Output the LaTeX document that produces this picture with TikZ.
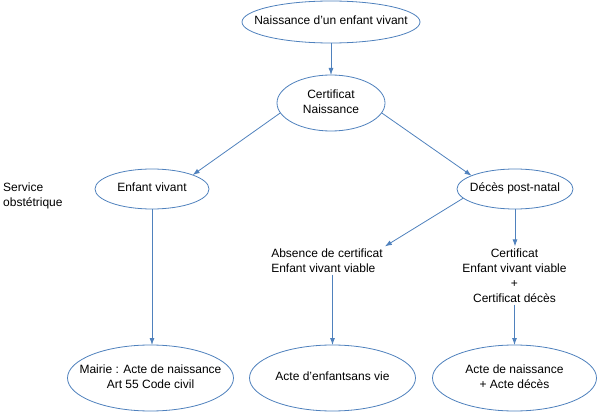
\documentclass[tikz,border=0pt]{standalone}
\usepackage{fontspec}
\setmainfont{Liberation Sans}
\usetikzlibrary{shapes.geometric,arrows.meta}
\definecolor{lineblue}{RGB}{79,129,189}
\newcommand\zbox[1]{\makebox[0pt]{\begin{tabular}{@{}c@{}}#1\end{tabular}}}
\begin{document}
\begin{tikzpicture}[x=1pt,y=-1pt,
  ell/.style={ellipse, draw=lineblue, fill=white, line width=0.8pt, inner sep=0pt, outer sep=0pt,
    font=\fontsize{12}{14.5}\selectfont},
  lbl/.style={inner sep=2pt, font=\fontsize{12}{15}\selectfont},
  conn/.style={draw=lineblue, line width=0.8pt, -{Latex[length=7pt,width=5pt]}}]
\useasboundingbox (0,0) rectangle (598,412);
\node[ell, minimum width=178pt, minimum height=42pt] (birth) at (331,22) {\zbox{Naissance d'un enfant vivant}};
\node[ell, minimum width=108pt, minimum height=56pt] (cert) at (331,103) {\zbox{Certificat\\Naissance}};
\node[ell, minimum width=114pt, minimum height=40pt] (ev) at (152,189) {\zbox{Enfant vivant}};
\node[ell, minimum width=116pt, minimum height=40pt] (deces) at (515,189) {\zbox{Décès post-natal}};
\node[ell, minimum width=166pt, minimum height=66pt] (mairie) at (150.5,378) {\zbox{Mairie : Acte de naissance\\Art 55 Code civil}};
\node[ell, minimum width=166pt, minimum height=66pt] (acte) at (332.5,378) {\zbox{Acte d'enfantsans vie}};
\node[ell, minimum width=164pt, minimum height=66pt] (an) at (514.5,378) {\zbox{Acte de naissance\\+ Acte décès}};
\node[lbl, anchor=west, align=left] (service) at (1,195.5) {Service\\obstétrique};
\node[lbl, align=left] (absence) at (327,260.5) {Absence de certificat\\Enfant vivant viable};
\node[lbl, align=center] (certg) at (514.5,275.5) {Certificat\\Enfant vivant viable\\+\\Certificat décès};
\draw[conn] (birth) -- (cert);
\draw[conn] (cert.191) -- (ev.19);
\draw[conn] (cert.349) -- (deces.163);
\draw[conn] (ev.south) -- (ev.south |- mairie.north);
\draw[conn] (deces.190) -- (absence.north east);
\draw[conn] (deces.south) -- (deces.south |- certg.north);
\draw[conn] (absence.south -| acte.north) -- (acte.north);
\draw[conn] (certg.south -| an.north) -- (an.north);
\end{tikzpicture}
\end{document}
